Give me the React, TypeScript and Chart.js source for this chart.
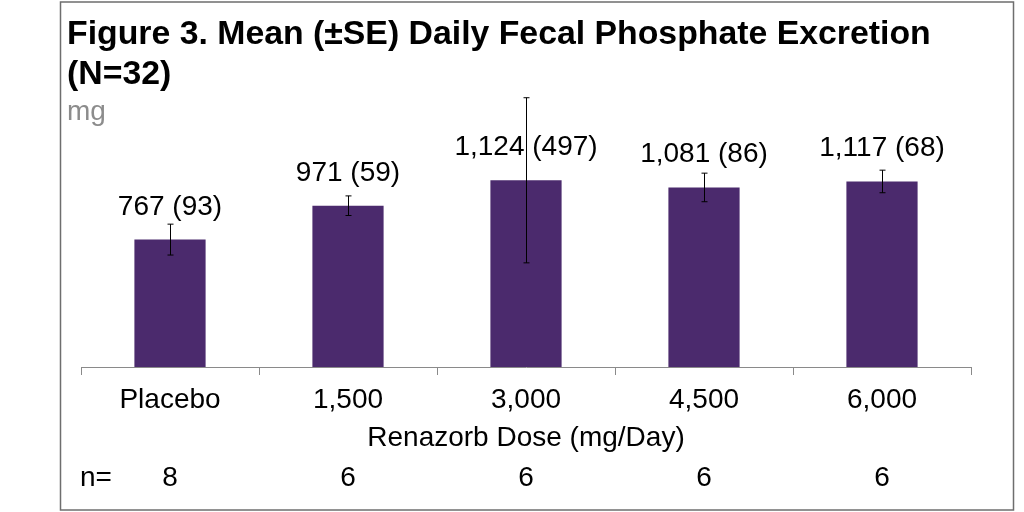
import { useEffect, useRef } from "react";
import { Chart, registerables } from "chart.js";

Chart.register(...registerables);

const categories = ["Placebo", "1,500", "3,000", "4,500", "6,000"];
const means = [767, 971, 1124, 1081, 1117];
const errors = [93, 59, 497, 86, 68];
const nCounts = ["8", "6", "6", "6", "6"];
const titleLines = ["Figure 3. Mean (±SE) Daily Fecal Phosphate Excretion", "(N=32)"];
const unitLabel = "mg";
const xTitle = "Renazorb Dose (mg/Day)";
const nLabel = "n=";

const FONT = "'Liberation Sans', Arial, Helvetica, sans-serif";
const BAR_COLOR = "#4b2a6d";

const fmt = (v: number) => v.toLocaleString("en-US");

const annotate = {
  id: "annotate",
  beforeDraw(chart: any) {
    const ctx = chart.ctx;
    ctx.save();
    ctx.fillStyle = "#ffffff";
    ctx.fillRect(0, 0, chart.width, chart.height);
    ctx.strokeStyle = "#6e6e6e";
    ctx.lineWidth = 1.5;
    ctx.strokeRect(60.5, 2, 953, 508);
    ctx.restore();
  },
  afterDatasetsDraw(chart: any) {
    const ctx = chart.ctx;
    const meta = chart.getDatasetMeta(0);
    const yScale = chart.scales.y;
    ctx.save();
    meta.data.forEach((bar: any, i: number) => {
      const x = Math.round(bar.x) + 0.5;
      const yTop = yScale.getPixelForValue(means[i] + errors[i]);
      const yBot = yScale.getPixelForValue(means[i] - errors[i]);
      ctx.strokeStyle = "#000000";
      ctx.lineWidth = 1;
      ctx.beginPath();
      ctx.moveTo(x, yTop);
      ctx.lineTo(x, yBot);
      ctx.moveTo(x - 3, yTop);
      ctx.lineTo(x + 3, yTop);
      ctx.moveTo(x - 3, yBot);
      ctx.lineTo(x + 3, yBot);
      ctx.stroke();

      ctx.fillStyle = "#000000";
      ctx.font = `28px ${FONT}`;
      ctx.textAlign = "center";
      ctx.textBaseline = "alphabetic";
      ctx.fillText(`${fmt(means[i])} (${fmt(errors[i])})`, bar.x, bar.y - 25);
      ctx.fillText(nCounts[i], bar.x, 486);
    });

    ctx.textAlign = "left";
    ctx.textBaseline = "alphabetic";
    ctx.fillStyle = "#000000";
    ctx.font = `bold 33.8px ${FONT}`;
    ctx.fillText(titleLines[0], 67, 44);
    ctx.fillText(titleLines[1], 67, 84);

    ctx.fillStyle = "#8c8c8c";
    ctx.font = `28px ${FONT}`;
    ctx.fillText(unitLabel, 67, 120);

    ctx.fillStyle = "#000000";
    ctx.fillText(nLabel, 80, 486);
    ctx.restore();
  },
};

export default function App() {
  const canvasRef = useRef<HTMLCanvasElement | null>(null);

  useEffect(() => {
    if (!canvasRef.current) return;
    Chart.defaults.font.family = FONT;
    const chart = new Chart(canvasRef.current, {
      type: "bar",
      data: {
        labels: categories,
        datasets: [
          {
            data: means,
            backgroundColor: BAR_COLOR,
            borderWidth: 0,
            barPercentage: 0.4,
            categoryPercentage: 1,
          },
        ],
      },
      options: {
        responsive: false,
        animation: false,
        events: [],
        layout: { padding: { left: 81, right: 53, top: 68, bottom: 57 } },
        plugins: {
          legend: { display: false },
          tooltip: { enabled: false },
          title: { display: false },
        },
        scales: {
          x: {
            offset: true,
            afterFit: (scale: any) => {
              scale.height = 88;
            },
            grid: {
              display: true,
              offset: true,
              drawOnChartArea: false,
              drawTicks: true,
              tickLength: 8,
              color: "#8a8a8a",
            },
            border: { display: true, color: "#8a8a8a", width: 1 },
            ticks: { color: "#000000", font: { size: 28 }, padding: 8, maxRotation: 0 },
            title: {
              display: true,
              text: xTitle,
              color: "#000000",
              font: { size: 28 },
              padding: { top: 0, bottom: 0 },
            },
          },
          y: { display: false, min: 0, max: 1800 },
        },
      },
      plugins: [annotate],
    });
    return () => chart.destroy();
  }, []);

  return (
    <div style={{ position: "fixed", left: 0, top: 0, width: 1024, height: 512, background: "#fff" }}>
      <canvas ref={canvasRef} width={1024} height={512} style={{ width: 1024, height: 512, display: "block" }} />
    </div>
  );
}
